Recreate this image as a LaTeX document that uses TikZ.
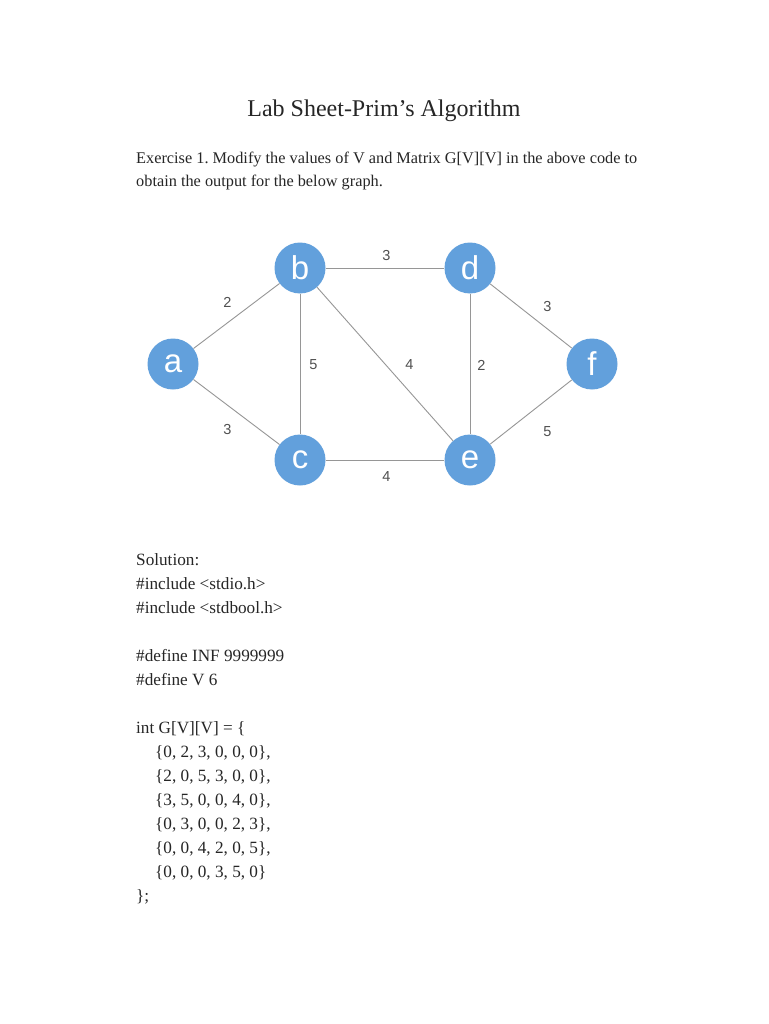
\documentclass[tikz,border=0pt]{standalone}
\usepackage{fontspec}
\setmainfont{Liberation Serif}
\newfontfamily\graphfont{Liberation Sans}
\definecolor{nodeblue}{RGB}{98,160,220}
\definecolor{edgegray}{RGB}{150,150,150}
\definecolor{labgray}{RGB}{80,80,80}
\frenchspacing
\begin{document}
\begin{tikzpicture}[x=1pt,y=-1pt,
  vert/.style={circle,fill=nodeblue,minimum size=51pt,inner sep=0pt,text=white,font=\graphfont\fontsize{33}{33}\selectfont},
  edge/.style={draw=edgegray,line width=0.9pt},
  wlab/.style={text=labgray,font=\graphfont\fontsize{14.5}{14.5}\selectfont,inner sep=0pt},
  body/.style={anchor=base west,inner sep=0pt,font=\fontsize{16.3}{18}\selectfont,text=black!85},
  code/.style={anchor=base west,inner sep=0pt,font=\fontsize{17.2}{18}\selectfont,text=black!85}]
\useasboundingbox (0,0) rectangle (768,1024);
\fill[white] (0,0) rectangle (768,1024);
% title and text
\node[anchor=base,inner sep=0pt,font=\fontsize{24}{30}\selectfont,text=black!85] (title) at (384,116.5) {Lab Sheet-Prim’s Algorithm};
\node[body] (ex1) at (136,164) {Exercise 1. Modify the values of V and Matrix G[V][V] in the above code to};
\node[body] (ex2) at (136,187) {obtain the output for the below graph.};
% graph
\node[vert] (a) at (173,364) {a};
\node[vert] (b) at (300,268) {b};
\node[vert] (c) at (300,460) {c};
\node[vert] (d) at (470,268) {d};
\node[vert] (e) at (470,460) {e};
\node[vert] (f) at (592,364) {f};
\draw[edge] (a) -- (b);
\draw[edge] (a) -- (c);
\draw[edge] (b) -- (c);
\draw[edge] (b) -- (d);
\draw[edge] (b) -- (e);
\draw[edge] (c) -- (e);
\draw[edge] (d) -- (e);
\draw[edge] (d) -- (f);
\draw[edge] (e) -- (f);
\node[wlab] (wab) at (227.3,302.5) {2};
\node[wlab] (wac) at (227.3,430) {3};
\node[wlab] (wbc) at (313.5,365) {5};
\node[wlab] (wbd) at (386.5,256) {3};
\node[wlab] (wbe) at (409.5,365) {4};
\node[wlab] (wce) at (386.5,477) {4};
\node[wlab] (wde) at (481.5,365) {2};
\node[wlab] (wdf) at (547.5,307) {3};
\node[wlab] (wef) at (547.5,431.5) {5};
% code
\node[code] (s0) at (136,565) {Solution:};
\node[code] (s1) at (136,589) {\#include <stdio.h>};
\node[code] (s2) at (136,613) {\#include <stdbool.h>};
\node[code] (s3) at (136,661) {\#define INF 9999999};
\node[code] (s4) at (136,685) {\#define V 6};
\node[code] (s5) at (136,733) {int G[V][V] = \{};
\node[code] (s6) at (155,757) {\{0, 2, 3, 0, 0, 0\},};
\node[code] (s7) at (155,781) {\{2, 0, 5, 3, 0, 0\},};
\node[code] (s8) at (155,805) {\{3, 5, 0, 0, 4, 0\},};
\node[code] (s9) at (155,829) {\{0, 3, 0, 0, 2, 3\},};
\node[code] (s10) at (155,853) {\{0, 0, 4, 2, 0, 5\},};
\node[code] (s11) at (155,877) {\{0, 0, 0, 3, 5, 0\}};
\node[code] (s12) at (136,901) {\};};
\end{tikzpicture}
\end{document}
